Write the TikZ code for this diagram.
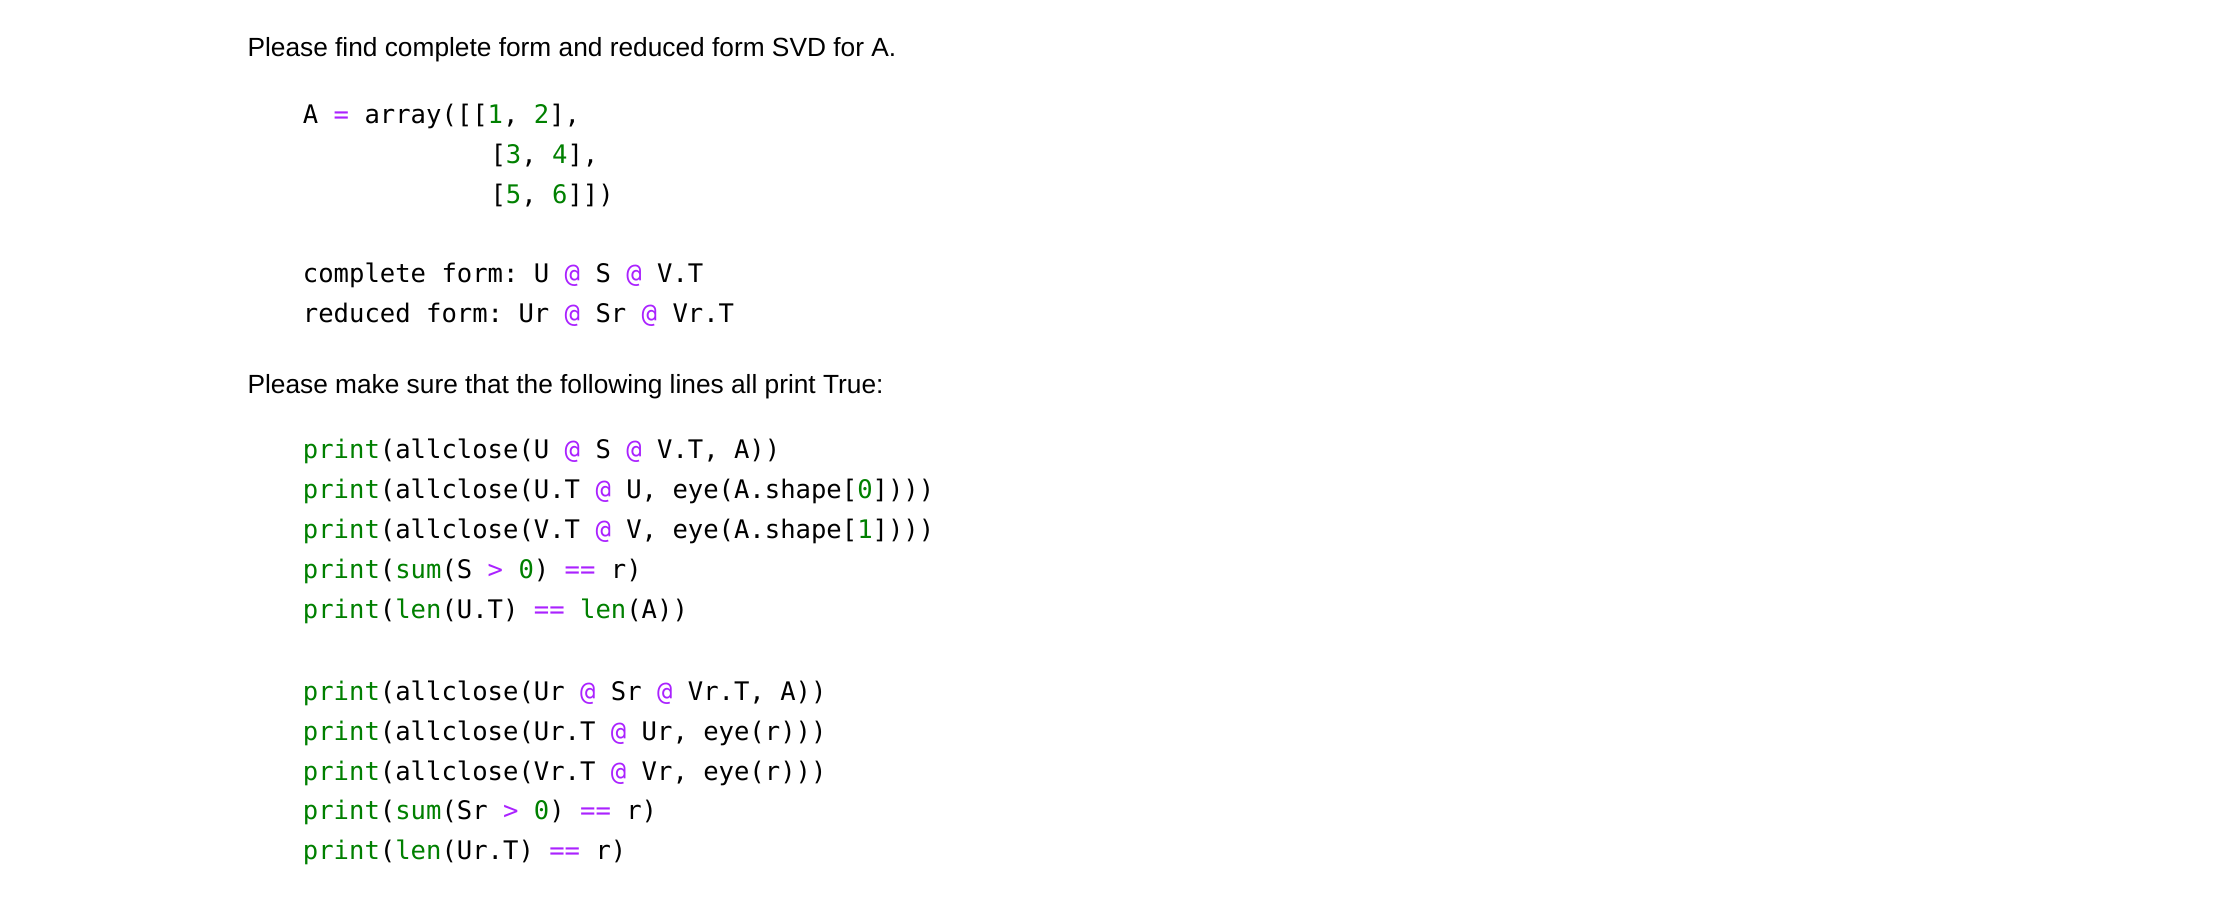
\documentclass[tikz,border=0pt]{standalone}
\usepackage{fontspec}
\setmainfont{Liberation Sans}
\setmonofont{DejaVu Sans Mono}
\definecolor{kgreen}{HTML}{008000}
\definecolor{kpurple}{HTML}{AA22FF}
\newcommand{\gr}[1]{\textcolor{kgreen}{#1}}
\newcommand{\pu}[1]{\textcolor{kpurple}{#1}}
\begin{document}
\begin{tikzpicture}[x=1pt,y=-1pt,
  txt/.style={anchor=base west,inner sep=0pt,font=\fontsize{18.5}{22}\selectfont},
  code/.style={anchor=base west,inner sep=0pt,font=\ttfamily\fontsize{18}{22}\selectfont}]
\useasboundingbox (0,0) rectangle (1568,630.6);
\node[txt] (t1) at (174,40) {Please find complete form and reduced form SVD for A.};
\node[code] (c1) at (213,87) {A \pu{=} array([[\gr{1}, \gr{2}],};
\node[code] (c2) at (345,115) {[\gr{3}, \gr{4}],};
\node[code] (c3) at (345,143) {[\gr{5}, \gr{6}]])};
\node[code] (c4) at (213,199) {complete form: U \pu{@} S \pu{@} V.T};
\node[code] (c5) at (213,227) {reduced form: Ur \pu{@} Sr \pu{@} Vr.T};
\node[txt] (t2) at (174,277) {Please make sure that the following lines all print True:};
\node[code] (p1) at (213,323) {\gr{print}(allclose(U \pu{@} S \pu{@} V.T, A))};
\node[code] (p2) at (213,351) {\gr{print}(allclose(U.T \pu{@} U, eye(A.shape[\gr{0}])))};
\node[code] (p3) at (213,379) {\gr{print}(allclose(V.T \pu{@} V, eye(A.shape[\gr{1}])))};
\node[code] (p4) at (213,407) {\gr{print}(\gr{sum}(S \pu{>} \gr{0}) \pu{==} r)};
\node[code] (p5) at (213,435) {\gr{print}(\gr{len}(U.T) \pu{==} \gr{len}(A))};
\node[code] (q1) at (213,493) {\gr{print}(allclose(Ur \pu{@} Sr \pu{@} Vr.T, A))};
\node[code] (q2) at (213,521) {\gr{print}(allclose(Ur.T \pu{@} Ur, eye(r)))};
\node[code] (q3) at (213,549) {\gr{print}(allclose(Vr.T \pu{@} Vr, eye(r)))};
\node[code] (q4) at (213,577) {\gr{print}(\gr{sum}(Sr \pu{>} \gr{0}) \pu{==} r)};
\node[code] (q5) at (213,605) {\gr{print}(\gr{len}(Ur.T) \pu{==} r)};
\end{tikzpicture}
\end{document}
